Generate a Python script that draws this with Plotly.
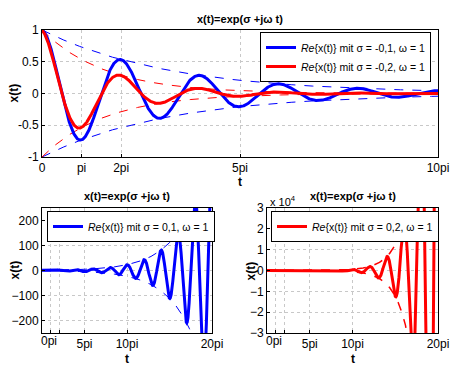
import numpy as np
import plotly.graph_objects as go

# parameters shown in the chart
omega = 1.0
sigma_top = [-0.1, -0.2]
sigma_bl = 0.1
sigma_br = 0.2
colors_top = ["#0000ff", "#ff0000"]
labels_top = ["<i>Re</i>{x(t)} mit σ = -0,1, ω = 1", "<i>Re</i>{x(t)} mit σ = -0,2, ω = 1"]
label_bl = "<i>Re</i>{x(t)} mit σ = 0,1, ω = 1"
label_br = "<i>Re</i>{x(t)} mit σ = 0,2, ω = 1"
title_text = "<b>x(t)=exp(σ +jω t)</b>"
top_tickvals = [0, np.pi, 2*np.pi, 5*np.pi, 10*np.pi]
top_ticktext = ["0", "pi", "2pi", "5pi", "10pi"]
bot_tickvals = [0, np.pi, 2*np.pi, 5*np.pi, 10*np.pi, 20*np.pi]
bot_ticktext = ["", "", "", "5pi", "10pi", "20pi"]

t_top = np.linspace(0, 10*np.pi, 2000)
t_bot = np.linspace(0, 20*np.pi, 4000)

# page body has an 8px margin; figure coords = screen coords - 8
W, H, OFF = 466, 362, 8
def px(x):
    return (x - OFF) / W
def py(y):
    return 1 - (y - OFF) / H

fig = go.Figure()
FONT = "Liberation Sans, Arial, sans-serif"

def xres(s, t):
    return np.exp(s*t)*np.cos(omega*t)

# top plot
for s, c, lab in zip(sigma_top, colors_top, labels_top):
    for sgn in (1, -1):
        fig.add_trace(go.Scatter(x=t_top, y=sgn*np.exp(s*t_top), mode="lines",
                                 line=dict(color=c, width=1, dash="dash"),
                                 showlegend=False, xaxis="x", yaxis="y", hoverinfo="skip"))
for s, c, lab in zip(sigma_top, colors_top, labels_top):
    fig.add_trace(go.Scatter(x=t_top, y=xres(s, t_top), mode="lines",
                             line=dict(color=c, width=3), name=lab,
                             xaxis="x", yaxis="y", legend="legend"))

# bottom left
for sgn in (1, -1):
    fig.add_trace(go.Scatter(x=t_bot, y=sgn*np.exp(sigma_bl*t_bot), mode="lines",
                             line=dict(color="#0000ff", width=1, dash="dash"),
                             showlegend=False, xaxis="x2", yaxis="y2", hoverinfo="skip"))
fig.add_trace(go.Scatter(x=t_bot, y=xres(sigma_bl, t_bot), mode="lines",
                         line=dict(color="#0000ff", width=3), name=label_bl,
                         xaxis="x2", yaxis="y2", legend="legend2"))

# bottom right (scaled by 1e4)
for sgn in (1, -1):
    fig.add_trace(go.Scatter(x=t_bot, y=sgn*np.exp(sigma_br*t_bot)/1e4, mode="lines",
                             line=dict(color="#ff0000", width=1.5, dash="dash"),
                             showlegend=False, xaxis="x3", yaxis="y3", hoverinfo="skip"))
fig.add_trace(go.Scatter(x=t_bot, y=xres(sigma_br, t_bot)/1e4, mode="lines",
                         line=dict(color="#ff0000", width=3), name=label_br,
                         xaxis="x3", yaxis="y3", legend="legend3"))

axcommon = dict(showline=True, linecolor="black", linewidth=1, mirror=True,
                ticks="inside", ticklen=3, tickcolor="black", tickangle=0, automargin=False,
                showgrid=True, gridcolor="#c8c8c8", griddash="dot", gridwidth=1,
                zeroline=False, tickfont=dict(family=FONT, size=12, color="black"))

TL = [px(42), px(438)]
TB = [py(157), py(30)]
BLX = [px(42), px(212)]
BRX = [px(267), px(438)]
BY = [py(333), py(208)]
LEGF = dict(family=FONT, size=10.5)

fig.update_layout(
    width=W, height=H, margin=dict(l=0, r=0, t=0, b=0, autoexpand=False),
    paper_bgcolor="white", plot_bgcolor="white",
    font=dict(family=FONT, color="black"),
    xaxis=dict(domain=TL, range=[0, 10*np.pi], tickvals=top_tickvals,
               ticktext=top_ticktext, anchor="y", **axcommon),
    yaxis=dict(domain=TB, range=[-1, 1], tickvals=[-1, -0.5, 0, 0.5, 1],
               ticktext=["-1", "-0.5", "0", "0.5", "1"], anchor="x", **axcommon),
    xaxis2=dict(domain=BLX, range=[0, 20*np.pi], tickvals=bot_tickvals,
                ticktext=bot_ticktext, anchor="y2", **axcommon),
    yaxis2=dict(domain=BY, range=[-250, 250], tickvals=[-200, -100, 0, 100, 200],
                anchor="x2", **axcommon),
    xaxis3=dict(domain=BRX, range=[0, 20*np.pi], tickvals=bot_tickvals,
                ticktext=bot_ticktext, anchor="y3", **axcommon),
    yaxis3=dict(domain=BY, range=[-3, 3], tickvals=[-3, -2, -1, 0, 1, 2, 3],
                anchor="x3", **axcommon),
    legend=dict(x=px(431), y=py(32), xanchor="right", yanchor="top",
                bgcolor="white", bordercolor="black", borderwidth=1,
                font=LEGF, tracegroupgap=0, itemwidth=30),
    legend2=dict(x=px(47), y=py(211), xanchor="left", yanchor="top",
                 bgcolor="white", bordercolor="black", borderwidth=1,
                 font=LEGF, itemwidth=30),
    legend3=dict(x=px(271), y=py(211), xanchor="left", yanchor="top",
                 bgcolor="white", bordercolor="black", borderwidth=1,
                 font=LEGF, itemwidth=30),
)

ann = []
for x, y in [((TL[0]+TL[1])/2, py(19)), ((BLX[0]+BLX[1])/2, py(196)), ((BRX[0]+BRX[1])/2, py(196))]:
    ann.append(dict(text=title_text, x=x, y=y, xref="paper", yref="paper", showarrow=False,
                    font=dict(family=FONT, size=11), xanchor="center", yanchor="middle"))
for x, y in [((TL[0]+TL[1])/2, py(182)), ((BLX[0]+BLX[1])/2, py(359)), ((BRX[0]+BRX[1])/2, py(359))]:
    ann.append(dict(text="<b>t</b>", x=x, y=y, xref="paper", yref="paper", showarrow=False,
                    font=dict(family=FONT, size=12), xanchor="center", yanchor="middle"))
for x, y in [(px(14), (TB[0]+TB[1])/2), (px(14), (BY[0]+BY[1])/2), (px(250), (BY[0]+BY[1])/2)]:
    ann.append(dict(text="<b>x(t)</b>", x=x, y=y, xref="paper", yref="paper", showarrow=False,
                    textangle=-90, font=dict(family=FONT, size=12), xanchor="center", yanchor="middle"))
ann.append(dict(text="x 10<sup>4</sup>", x=px(268), y=py(201), xref="paper", yref="paper",
                showarrow=False, font=dict(family=FONT, size=11), xanchor="left", yanchor="middle"))
for xr in ("x2", "x3"):
    ann.append(dict(text="0pi", x=0, y=py(341), xref=xr, yref="paper", showarrow=False,
                    xanchor="left", xshift=-3, yanchor="middle", font=dict(family=FONT, size=12)))
fig.update_layout(annotations=ann)

fig.write_html("out.html")
